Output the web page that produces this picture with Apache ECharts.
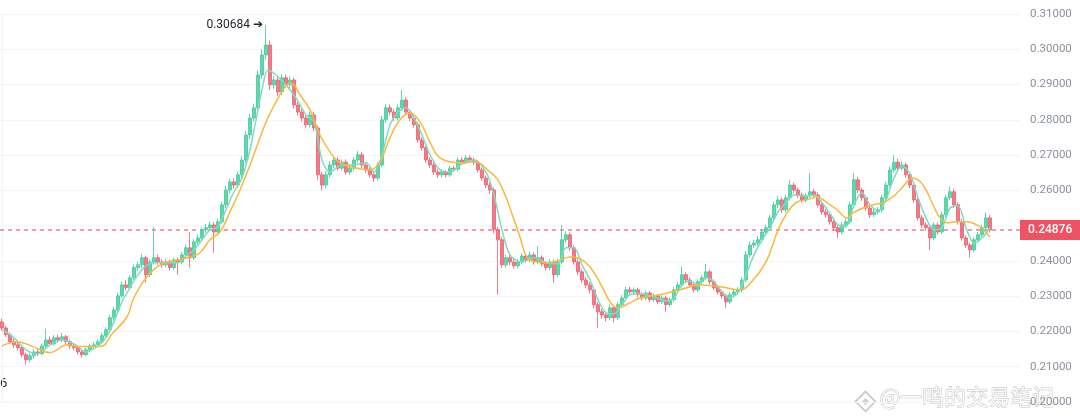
<!DOCTYPE html>
<html>
<head>
<meta charset="utf-8">
<script src="https://cdn.jsdelivr.net/npm/echarts@6/dist/echarts.min.js"></script>
<style>
html,body{margin:0;padding:0;background:#fff;}
#chart{width:1080px;height:419px;}
</style>
</head>
<body>
<div id="chart"></div>
<script>
// candle rows: [open, close, low, high]
const candles = [
[0.2227,0.2210,0.2203,0.2236],[0.2210,0.2191,0.2184,0.2216],[0.2191,0.2171,0.2165,0.2198],[0.2171,0.2162,0.2153,0.2180],
[0.2162,0.2154,0.2146,0.2170],[0.2154,0.2134,0.2126,0.2160],[0.2134,0.2120,0.2106,0.2140],[0.2120,0.2131,0.2113,0.2139],
[0.2131,0.2142,0.2124,0.2150],[0.2142,0.2137,0.2130,0.2151],[0.2137,0.2159,0.2132,0.2166],[0.2159,0.2176,0.2152,0.2208],
[0.2176,0.2165,0.2158,0.2186],[0.2165,0.2182,0.2160,0.2190],[0.2182,0.2176,0.2168,0.2191],[0.2176,0.2185,0.2170,0.2196],
[0.2185,0.2171,0.2164,0.2190],[0.2171,0.2159,0.2151,0.2177],[0.2159,0.2154,0.2147,0.2166],[0.2154,0.2142,0.2135,0.2160],
[0.2142,0.2134,0.2126,0.2149],[0.2134,0.2148,0.2130,0.2155],[0.2148,0.2159,0.2142,0.2166],[0.2159,0.2162,0.2152,0.2170],
[0.2162,0.2171,0.2156,0.2178],[0.2171,0.2188,0.2166,0.2196],[0.2188,0.2205,0.2182,0.2212],[0.2205,0.2239,0.2199,0.2247],
[0.2239,0.2261,0.2230,0.2270],[0.2261,0.2301,0.2255,0.2310],[0.2301,0.2332,0.2294,0.2342],[0.2332,0.2324,0.2316,0.2345],
[0.2324,0.2352,0.2318,0.2360],[0.2352,0.2381,0.2346,0.2390],[0.2381,0.2389,0.2373,0.2398],[0.2389,0.2409,0.2380,0.2420],
[0.2409,0.2361,0.2338,0.2415],[0.2361,0.2397,0.2354,0.2405],[0.2397,0.2409,0.2390,0.2497],[0.2409,0.2397,0.2388,0.2418],
[0.2397,0.2389,0.2380,0.2405],[0.2389,0.2397,0.2383,0.2406],[0.2397,0.2381,0.2372,0.2404],[0.2381,0.2403,0.2375,0.2410],
[0.2403,0.2397,0.2361,0.2410],[0.2397,0.2417,0.2390,0.2425],[0.2417,0.2437,0.2410,0.2446],[0.2437,0.2409,0.2381,0.2482],
[0.2409,0.2454,0.2403,0.2462],[0.2454,0.2465,0.2446,0.2474],[0.2465,0.2488,0.2458,0.2496],[0.2488,0.2494,0.2480,0.2505],
[0.2494,0.2502,0.2486,0.2512],[0.2502,0.2482,0.2423,0.2510],[0.2482,0.2511,0.2475,0.2520],[0.2511,0.2559,0.2505,0.2568],
[0.2559,0.2601,0.2550,0.2612],[0.2601,0.2624,0.2592,0.2633],[0.2624,0.2615,0.2605,0.2634],[0.2615,0.2644,0.2608,0.2653],
[0.2644,0.2686,0.2636,0.2696],[0.2686,0.2757,0.2678,0.2768],[0.2757,0.2805,0.2746,0.2818],[0.2805,0.2834,0.2795,0.2846],
[0.2834,0.2927,0.2826,0.2940],[0.2927,0.2984,0.2916,0.3000],[0.2984,0.3012,0.2970,0.30684],[0.3012,0.2899,0.2885,0.3025],
[0.2899,0.2913,0.2888,0.2925],[0.2913,0.2879,0.2868,0.2922],[0.2879,0.2919,0.2870,0.2930],[0.2919,0.2899,0.2890,0.2928],
[0.2899,0.2913,0.2889,0.2924],[0.2913,0.2842,0.2832,0.2920],[0.2842,0.2822,0.2812,0.2851],[0.2822,0.2805,0.2795,0.2832],
[0.2805,0.2786,0.2776,0.2813],[0.2786,0.2814,0.2779,0.2823],[0.2814,0.2777,0.2768,0.2822],[0.2777,0.2644,0.2630,0.2784],
[0.2644,0.2615,0.2600,0.2652],[0.2615,0.2644,0.2606,0.2655],[0.2644,0.2672,0.2636,0.2683],[0.2672,0.2686,0.2664,0.2696],
[0.2686,0.2663,0.2655,0.2694],[0.2663,0.2680,0.2656,0.2688],[0.2680,0.2652,0.2644,0.2688],[0.2652,0.2663,0.2645,0.2672],
[0.2663,0.2686,0.2656,0.2695],[0.2686,0.2701,0.2679,0.2712],[0.2701,0.2672,0.2664,0.2708],[0.2672,0.2658,0.2650,0.2680],
[0.2658,0.2644,0.2636,0.2665],[0.2644,0.2635,0.2624,0.2652],[0.2635,0.2672,0.2628,0.2680],[0.2672,0.2800,0.2665,0.2812],
[0.2800,0.2834,0.2792,0.2845],[0.2834,0.2822,0.2813,0.2843],[0.2822,0.2805,0.2797,0.2830],[0.2805,0.2834,0.2798,0.2843],
[0.2834,0.2856,0.2826,0.2885],[0.2856,0.2822,0.2813,0.2864],[0.2822,0.2805,0.2796,0.2830],[0.2805,0.2786,0.2778,0.2812],
[0.2786,0.2743,0.2735,0.2793],[0.2743,0.2721,0.2712,0.2750],[0.2721,0.2686,0.2678,0.2728],[0.2686,0.2672,0.2663,0.2694],
[0.2672,0.2652,0.2644,0.2679],[0.2652,0.2644,0.2636,0.2660],[0.2644,0.2652,0.2637,0.2660],[0.2652,0.2644,0.2636,0.2658],
[0.2644,0.2663,0.2638,0.2670],[0.2663,0.2660,0.2652,0.2670],[0.2660,0.2686,0.2654,0.2694],[0.2686,0.2680,0.2672,0.2694],
[0.2680,0.2692,0.2674,0.2700],[0.2692,0.2686,0.2678,0.2699],[0.2686,0.2680,0.2672,0.2693],[0.2680,0.2658,0.2650,0.2686],
[0.2658,0.2635,0.2627,0.2665],[0.2635,0.2615,0.2606,0.2642],[0.2615,0.2601,0.2590,0.2622],[0.2601,0.2488,0.2478,0.2608],
[0.2488,0.2460,0.2304,0.2496],[0.2460,0.2389,0.2380,0.2468],[0.2389,0.2409,0.2381,0.2418],[0.2409,0.2397,0.2388,0.2417],
[0.2397,0.2386,0.2378,0.2405],[0.2386,0.2397,0.2379,0.2405],[0.2397,0.2414,0.2390,0.2422],[0.2414,0.2403,0.2395,0.2421],
[0.2403,0.2417,0.2396,0.2426],[0.2417,0.2397,0.2389,0.2424],[0.2397,0.2409,0.2390,0.2441],[0.2409,0.2392,0.2384,0.2416],
[0.2392,0.2381,0.2372,0.2400],[0.2381,0.2397,0.2374,0.2405],[0.2397,0.2361,0.2338,0.2404],[0.2361,0.2397,0.2355,0.2405],
[0.2397,0.2460,0.2390,0.2502],[0.2460,0.2474,0.2452,0.2484],[0.2474,0.2437,0.2428,0.2480],[0.2437,0.2397,0.2389,0.2444],
[0.2397,0.2369,0.2360,0.2404],[0.2369,0.2346,0.2337,0.2376],[0.2346,0.2332,0.2323,0.2354],[0.2332,0.2318,0.2308,0.2340],
[0.2318,0.2276,0.2266,0.2326],[0.2276,0.2256,0.2210,0.2284],[0.2256,0.2247,0.2236,0.2264],[0.2247,0.2239,0.2228,0.2255],
[0.2239,0.2267,0.2231,0.2276],[0.2267,0.2239,0.2226,0.2274],[0.2239,0.2276,0.2232,0.2284],[0.2276,0.2295,0.2270,0.2303],
[0.2295,0.2318,0.2288,0.2326],[0.2318,0.2312,0.2304,0.2327],[0.2312,0.2318,0.2306,0.2325],[0.2318,0.2304,0.2297,0.2324],
[0.2304,0.2295,0.2288,0.2311],[0.2295,0.2309,0.2289,0.2316],[0.2309,0.2290,0.2283,0.2315],[0.2290,0.2301,0.2284,0.2308],
[0.2301,0.2284,0.2277,0.2307],[0.2284,0.2295,0.2278,0.2302],[0.2295,0.2276,0.2256,0.2301],[0.2276,0.2290,0.2270,0.2297],
[0.2290,0.2318,0.2284,0.2326],[0.2318,0.2332,0.2311,0.2340],[0.2332,0.2361,0.2325,0.2384],[0.2361,0.2346,0.2338,0.2368],
[0.2346,0.2332,0.2325,0.2353],[0.2332,0.2318,0.2311,0.2338],[0.2318,0.2341,0.2312,0.2348],[0.2341,0.2352,0.2334,0.2360],
[0.2352,0.2369,0.2345,0.2392],[0.2369,0.2341,0.2334,0.2375],[0.2341,0.2324,0.2317,0.2348],[0.2324,0.2312,0.2305,0.2330],
[0.2312,0.2301,0.2293,0.2318],[0.2301,0.2284,0.2267,0.2307],[0.2284,0.2304,0.2278,0.2311],[0.2304,0.2312,0.2297,0.2319],
[0.2312,0.2318,0.2305,0.2326],[0.2318,0.2346,0.2311,0.2354],[0.2346,0.2417,0.2340,0.2428],[0.2417,0.2445,0.2409,0.2455],
[0.2445,0.2451,0.2437,0.2460],[0.2451,0.2460,0.2443,0.2470],[0.2460,0.2482,0.2452,0.2491],[0.2482,0.2494,0.2475,0.2503],
[0.2494,0.2522,0.2487,0.2531],[0.2522,0.2559,0.2515,0.2568],[0.2559,0.2573,0.2550,0.2584],[0.2573,0.2545,0.2536,0.2580],
[0.2545,0.2579,0.2538,0.2588],[0.2579,0.2615,0.2571,0.2630],[0.2615,0.2601,0.2592,0.2622],[0.2601,0.2587,0.2578,0.2608],
[0.2587,0.2573,0.2565,0.2594],[0.2573,0.2584,0.2566,0.2592],[0.2584,0.2596,0.2577,0.2649],[0.2596,0.2587,0.2579,0.2604],
[0.2587,0.2559,0.2551,0.2594],[0.2559,0.2539,0.2531,0.2566],[0.2539,0.2531,0.2523,0.2547],[0.2531,0.2511,0.2503,0.2538],
[0.2511,0.2494,0.2486,0.2518],[0.2494,0.2482,0.2465,0.2500],[0.2482,0.2502,0.2475,0.2510],[0.2502,0.2511,0.2495,0.2520],
[0.2511,0.2559,0.2505,0.2568],[0.2559,0.2630,0.2552,0.2649],[0.2630,0.2601,0.2592,0.2638],[0.2601,0.2579,0.2570,0.2608],
[0.2579,0.2550,0.2542,0.2586],[0.2550,0.2531,0.2522,0.2557],[0.2531,0.2539,0.2524,0.2547],[0.2539,0.2545,0.2531,0.2553],
[0.2545,0.2579,0.2538,0.2587],[0.2579,0.2615,0.2572,0.2624],[0.2615,0.2658,0.2608,0.2668],[0.2658,0.2680,0.2650,0.2700],
[0.2680,0.2663,0.2655,0.2690],[0.2663,0.2672,0.2656,0.2682],[0.2672,0.2644,0.2636,0.2679],[0.2644,0.2615,0.2606,0.2652],
[0.2615,0.2573,0.2565,0.2622],[0.2573,0.2522,0.2514,0.2580],[0.2522,0.2502,0.2493,0.2530],[0.2502,0.2494,0.2485,0.2510],
[0.2494,0.2465,0.2431,0.2502],[0.2465,0.2502,0.2458,0.2510],[0.2502,0.2482,0.2474,0.2509],[0.2482,0.2531,0.2476,0.2540],
[0.2531,0.2579,0.2524,0.2588],[0.2579,0.2596,0.2572,0.2610],[0.2596,0.2559,0.2550,0.2604],[0.2559,0.2511,0.2503,0.2566],
[0.2511,0.2465,0.2457,0.2518],[0.2465,0.2445,0.2437,0.2472],[0.2445,0.2431,0.2409,0.2452],[0.2431,0.2460,0.2425,0.2468],
[0.2460,0.2474,0.2452,0.2482],[0.2474,0.2494,0.2467,0.2502],[0.2494,0.2522,0.2487,0.2537],[0.2522,0.24876,0.2480,0.2530]
];
// short moving average (teal): [candle index, price]
const maShort = [
[0,0.2205],[3,0.2182],[6,0.2148],[9,0.2137],[12,0.2162],[15,0.2176],[18,0.2165],[21,0.2142],[24,0.2159],[26,0.2182],
[28,0.2227],[30,0.2284],[32,0.2324],[34,0.2361],[36,0.2386],[38,0.2395],[41,0.2395],[44,0.2395],[46,0.2414],[48,0.2431],
[50,0.2460],[52,0.2488],[54,0.2497],[56,0.2545],[58,0.2596],[60,0.2635],[62,0.2715],[63.5,0.2800],[65,0.2885],[66.5,0.2941],
[68.5,0.2927],[71,0.2899],[73.5,0.2862],[76,0.2814],[78,0.2794],[80,0.2686],[82,0.2652],[85,0.2672],[88,0.2672],[91,0.2678],
[93,0.2652],[95,0.2701],[97,0.2786],[99,0.2822],[101,0.2834],[103,0.2805],[105,0.2757],[107,0.2701],[109.5,0.2658],[112,0.2652],
[115,0.2675],[118,0.2686],[121,0.2652],[123,0.2587],[125,0.2488],[127,0.2417],[130,0.2397],[133,0.2409],[136,0.2395],[139,0.2392],
[141,0.2437],[143,0.2437],[145,0.2389],[147,0.2346],[149,0.2290],[151,0.2253],[153,0.2250],[155,0.2276],[157,0.2304],[160,0.2307],
[163,0.2298],[166,0.2287],[168,0.2295],[170,0.2332],[172,0.2343],[174,0.2332],[176,0.2352],[178,0.2341],[180,0.2312],[182,0.2295],
[184,0.2310],[186,0.2361],[188,0.2417],[190,0.2460],[192,0.2494],[194,0.2539],[196,0.2565],[198,0.2587],[201,0.2584],[203,0.2587],
[205,0.2565],[207,0.2534],[209,0.2502],[211,0.2497],[213,0.2559],[215,0.2593],[217,0.2559],[219,0.2542],[221,0.2573],[223,0.2635],
[225,0.2670],[227,0.2647],[229,0.2579],[231,0.2522],[233,0.2488],[235,0.2494],[237,0.2550],[239,0.2556],[241,0.2494],[243,0.2451],
[245,0.2465],[247,0.2494]
];
// long moving average (yellow): [candle index, price]
const maLong = [
[0,0.2159],[3.75,0.2171],[7.75,0.2157],[12,0.2140],[16.25,0.2162],[19.5,0.2157],[24.5,0.2157],[27.75,0.2196],[31.25,0.2241],[32.75,0.2290],
[34.5,0.2327],[36.25,0.2355],[38.75,0.2383],[41.25,0.2397],[44.5,0.2403],[47,0.2411],[49.5,0.2423],[52,0.2460],[54.5,0.2482],[57,0.2539],
[59.5,0.2601],[62,0.2672],[64.5,0.2749],[66.25,0.2800],[68.75,0.2856],[71.25,0.2899],[72.5,0.2902],[74.5,0.2871],[77,0.2828],[79.5,0.2757],
[82,0.2709],[84.5,0.2678],[88.25,0.2664],[92,0.2658],[94.5,0.2681],[97,0.2749],[99.5,0.2800],[102,0.2819],[104.5,0.2794],[107,0.2737],
[109.5,0.2692],[114.5,0.2678],[118.25,0.2681],[122,0.2652],[124,0.2630],[126.25,0.2573],[127.75,0.2525],[129.5,0.2468],[131.25,0.2411],[133.75,0.2397],
[137,0.2395],[139.5,0.2403],[142,0.2411],[144.5,0.2406],[147,0.2383],[149.5,0.2338],[152,0.2284],[153.75,0.2267],[157,0.2281],[159.5,0.2295],
[164.5,0.2304],[169.5,0.2318],[174.5,0.2332],[179.5,0.2327],[184.5,0.2318],[187.75,0.2346],[191.25,0.2403],[193.75,0.2480],[196.25,0.2536],[198.75,0.2567],
[201.25,0.2573],[203.75,0.2582],[206.25,0.2565],[208.75,0.2545],[211.25,0.2522],[212.75,0.2536],[215.25,0.2550],[217.75,0.2559],[220.25,0.2565],[222.75,0.2582],
[224.5,0.2601],[227.75,0.2635],[230.25,0.2615],[232.75,0.2559],[234.5,0.2522],[236.25,0.2508],[238.75,0.2511],[241.25,0.2511],[243.75,0.2502],[245.25,0.2488],
[247,0.2468]
];
const lastPrice = 0.24876;
const maxPrice = 0.30684;
const maxIndex = 66;
const slotCount = 255; // candle slots across the plot, including empty ones at the right
const categories = Array.from({length: slotCount}, (_, i) => String(i + 1));

const chart = echarts.init(document.getElementById('chart'), null, {renderer: 'canvas'});
const upColor = '#45cf9f', downColor = '#ef6474';
const lineRed = '#e8606e';
chart.setOption({
  animation: false,
  backgroundColor: '#ffffff',
  grid: {left: 0, right: 60, top: 14, bottom: 17},
  xAxis: [
    {type: 'category', data: categories, show: false, boundaryGap: true},
    {type: 'value', min: -0.5, max: slotCount - 0.5, show: false}
  ],
  yAxis: {
    type: 'value', position: 'right', min: 0.20, max: 0.31, interval: 0.01,
    axisLine: {show: true, lineStyle: {color: '#f1f2f4'}},
    axisTick: {show: false},
    splitLine: {show: true, lineStyle: {color: '#f4f5f6', width: 1}},
    axisLabel: {color: '#8a919c', fontSize: 11.5, fontFamily: 'Roboto', margin: 10,
      formatter: v => v.toFixed(5)}
  },
  series: [
    {
      type: 'line', xAxisIndex: 1, name: 'last', z: 1,
      data: [[-0.5, lastPrice], [slotCount - 0.5, lastPrice]],
      showSymbol: false, silent: true,
      lineStyle: {color: lineRed, type: [4, 4], width: 1.2},
      itemStyle: {color: lineRed},
      endLabel: {show: true, distance: 0, formatter: '0.24876', color: '#ffffff',
        backgroundColor: '#ef5262', padding: [4, 8, 4, 8], fontSize: 12, fontFamily: 'Roboto', fontWeight: 500}
    },
    {
      type: 'candlestick', xAxisIndex: 0, data: candles, barWidth: 2.8, z: 2,
      itemStyle: {color: upColor, color0: downColor, borderColor: upColor, borderColor0: downColor, borderWidth: 1, opacity: 0.85},
      markPoint: {
        symbol: 'circle', symbolSize: 0,
        label: {show: true, position: 'left', distance: 3, formatter: '0.30684 ➔', color: '#1e2329', fontSize: 12, fontFamily: 'Roboto'},
        data: [{coord: [maxIndex, maxPrice], value: maxPrice}]
      }
    },
    {type: 'line', xAxisIndex: 1, data: maShort, showSymbol: false, smooth: 0.3,
      lineStyle: {color: '#7fdcc2', width: 1.5}, z: 3},
    {type: 'line', xAxisIndex: 1, data: maLong, showSymbol: false, smooth: 0.4,
      lineStyle: {color: '#f8b93c', width: 1.5}, z: 4}
  ],
  graphic: [
    {type: 'text', left: 0, top: 377, style: {text: '6', fill: '#1e2329', font: '13px Roboto'}},
    {type: 'group', left: 852, top: 388, children: [
      {type: 'rect', shape: {x: -7, y: -7, width: 14, height: 14}, x: 10, y: 10, rotation: Math.PI / 4,
        style: {fill: 'none', stroke: '#cfcfcf', lineWidth: 2}},
      {type: 'rect', shape: {x: -2.5, y: -2.5, width: 5, height: 5}, x: 10, y: 10, rotation: Math.PI / 4,
        style: {fill: '#cfcfcf'}}
    ]},
    {type: 'text', left: 879, top: 385, style: {text: '@一鸣的交易笔记', fill: 'rgba(255,255,255,0.85)', stroke: '#c4c4c4', lineWidth: 1,
      font: '22px "Noto Sans CJK SC"'}}
  ]
});
</script>
</body>
</html>
